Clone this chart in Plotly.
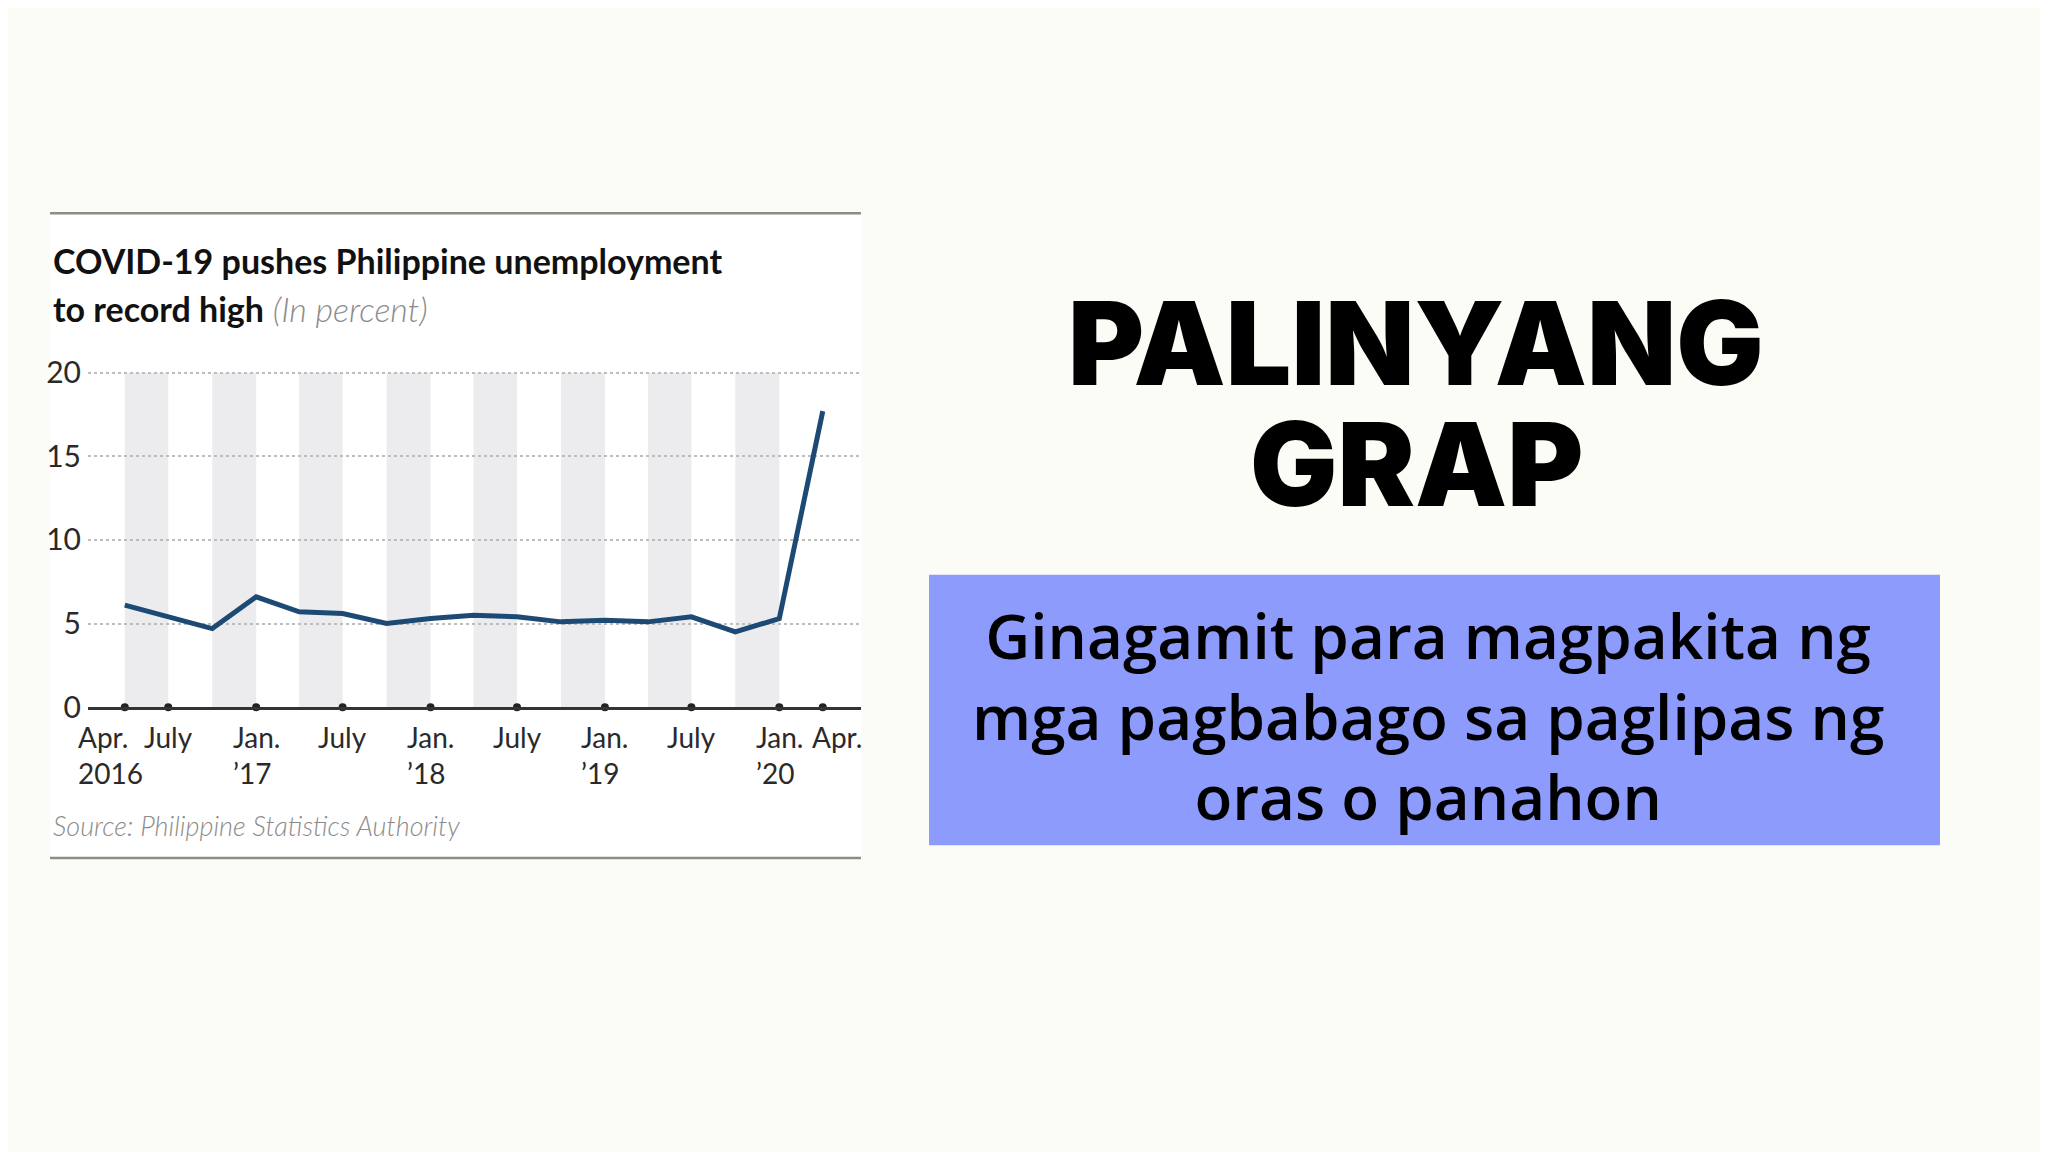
import plotly.graph_objects as go

# quarterly unemployment rate, Philippines (PSA labour force survey)
quarters = ["2016-04-01", "2016-07-01", "2016-10-01", "2017-01-01", "2017-04-01",
            "2017-07-01", "2017-10-01", "2018-01-01", "2018-04-01", "2018-07-01",
            "2018-10-01", "2019-01-01", "2019-04-01", "2019-07-01", "2019-10-01",
            "2020-01-01", "2020-04-01"]
unemployment = [6.1, 5.4, 4.7, 6.6, 5.7, 5.6, 5.0, 5.3, 5.5, 5.4,
                5.1, 5.2, 5.1, 5.4, 4.5, 5.3, 17.7]

tick_dates = ["2016-04-01", "2016-07-01", "2017-01-01", "2017-07-01", "2018-01-01",
              "2018-07-01", "2019-01-01", "2019-07-01", "2020-01-01", "2020-04-01"]
tick_labels = ["Apr.<br>2016", "July", "Jan.<br>’17", "July", "Jan.<br>’18",
               "July", "Jan.<br>’19", "July", "Jan.<br>’20", "Apr."]
y_ticks = [0, 5, 10, 15, 20]

W, H = 2048, 1152
PAGE = "#fcfcf6"
FONT = "Lato, sans-serif"


def px(x):
    return x / W


def py(y):
    return 1 - y / H


fig = go.Figure()

fig.add_trace(go.Scatter(
    x=quarters, y=unemployment, mode="lines",
    line=dict(color="#1c4a74", width=5),
    hoverinfo="skip", showlegend=False))

# little dots on the baseline at each labelled month
fig.add_trace(go.Scatter(
    x=tick_dates, y=[0] * len(tick_dates), mode="markers",
    marker=dict(color="#222222", size=8), cliponaxis=False,
    hoverinfo="skip", showlegend=False))

shapes = []
# white panel + grey rules above and below
shapes.append(dict(type="rect", xref="paper", yref="paper", layer="below",
                   x0=px(42), x1=px(853), y0=py(860), y1=py(193),
                   fillcolor="white", line=dict(width=0)))
for yy in (193, 858):
    shapes.append(dict(type="line", xref="paper", yref="paper",
                       x0=px(42), x1=px(853), y0=py(yy), y1=py(yy),
                       line=dict(color="#8c8c8c", width=2.5)))
# alternating grey quarter bands
for i in range(0, len(quarters) - 1, 2):
    shapes.append(dict(type="rect", xref="x", yref="y", layer="below",
                       x0=quarters[i], x1=quarters[i + 1], y0=0, y1=20,
                       fillcolor="#ececef", line=dict(width=0)))
# blue box on the right
shapes.append(dict(type="rect", xref="paper", yref="paper",
                   x0=px(921), x1=px(1932), y0=py(845), y1=py(566),
                   fillcolor="#8c9bfc", line=dict(width=0), layer="below"))

annotations = [
    dict(text="<b>COVID-19 pushes Philippine unemployment</b>",
         x=px(43), y=py(242), xanchor="left", yanchor="middle",
         font=dict(family=FONT, size=34, color="#111111")),
    dict(text="<b>to record high</b> <span style='color:#8c8c8c;font-weight:300'><i>(In percent)</i></span>",
         x=px(43), y=py(291), xanchor="left", yanchor="middle",
         font=dict(family=FONT, size=34, color="#111111")),
    dict(text="<i>Source: Philippine Statistics Authority</i>",
         x=px(43), y=py(825), xanchor="left", yanchor="middle",
         font=dict(family=FONT, size=27, color="#8c8c8c", weight=300)),
    dict(text="PALINYANG", x=px(1408), y=py(327), xanchor="center", yanchor="middle",
         font=dict(family="Inter", size=116, color="#000000", weight=900)),
    dict(text="GRAP", x=px(1408), y=py(452), xanchor="center", yanchor="middle",
         font=dict(family="Inter", size=116, color="#000000", weight=900)),
    dict(text="Ginagamit para magpakita ng<br>mga pagbabago sa paglipas ng<br>oras o panahon",
         x=px(1420), y=py(711), xanchor="center", yanchor="middle", align="center",
         font=dict(family="Open Sans", size=62, color="#000000", weight=600)),
]
for a in annotations:
    a.update(xref="paper", yref="paper", showarrow=False)

# x tick labels: first one pushed left, last one pushed right like the original
for i, (d, lab) in enumerate(zip(tick_dates, tick_labels)):
    anchor, shift = "center", 0
    if i == 0:
        anchor, shift = "right", 19
    elif i == len(tick_dates) - 1:
        anchor, shift = "left", -12
    annotations.append(dict(
        text=lab, x=d, xref="x", y=py(715), yref="paper",
        xanchor=anchor, xshift=shift, yanchor="top", align="left",
        showarrow=False, borderpad=0,
        font=dict(family=FONT, size=28, color="#2a2a2a")))

fig.update_layout(
    width=W, height=H,
    margin=dict(l=0, r=0, t=0, b=0),
    paper_bgcolor=PAGE, plot_bgcolor="white",
    shapes=shapes, annotations=annotations,
    showlegend=False,
    xaxis=dict(
        domain=[px(80), px(853)], type="date",
        range=["2016-01-15", "2020-06-20"],
        showticklabels=False, showgrid=False, zeroline=False,
        showline=True, linecolor="#333333", linewidth=2.5, ticks="",
    ),
    yaxis=dict(
        domain=[py(702.5), py(355.8)], range=[0, 20.1],
        tickvals=y_ticks,
        showgrid=True, gridcolor="#bdbdbd", gridwidth=1.5, griddash="dot",
        zeroline=False, showline=False, ticks="", ticklabelstandoff=6,
        tickfont=dict(family=FONT, size=30, color="#2a2a2a"),
    ),
)

fig.write_html("out.html")
